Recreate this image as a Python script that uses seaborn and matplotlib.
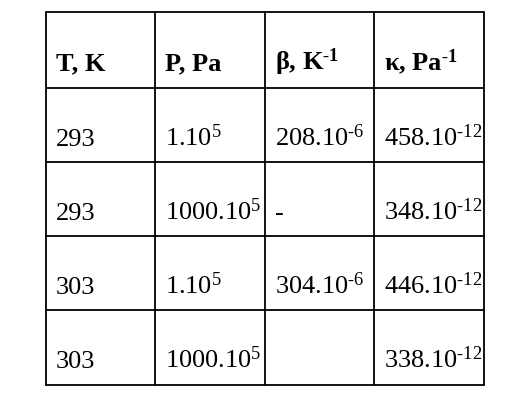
import matplotlib
matplotlib.use("Agg")
import matplotlib.pyplot as plt
import seaborn as sns

headers = ["T, K", "P, Pa", "β, K$^{\\mathbf{\\text{-}1}}$", "κ, Pa$^{\\mathbf{\\text{-}1}}$"]
temps = ["293", "293", "303", "303"]
pressures = ["1.10$^{5}$", "1000.10$^{5}$", "1.10$^{5}$", "1000.10$^{5}$"]
betas = ["208.10$^{\\text{-}6}$", "-", "304.10$^{\\text{-}6}$", ""]
kappas = ["458.10$^{\\text{-}12}$", "348.10$^{\\text{-}12}$", "446.10$^{\\text{-}12}$", "338.10$^{\\text{-}12}$"]

sns.set_style("white")
plt.rcParams['font.family'] = ['Liberation Serif', 'DejaVu Serif']
plt.rcParams['mathtext.fontset'] = 'custom'
plt.rcParams['mathtext.rm'] = 'Liberation Serif'
plt.rcParams['mathtext.it'] = 'Liberation Serif'
plt.rcParams['mathtext.bf'] = 'Liberation Serif:bold'

fig = plt.figure(figsize=(5.28, 4.01), dpi=100)
ax = fig.add_axes([0, 0, 1, 1])
ax.set_xlim(0, 528)
ax.set_ylim(401, 0)
ax.axis("off")

col_x = [46, 155, 265, 374, 484]
row_y = [12, 88, 162, 236, 310, 385]
for x in col_x:
    ax.plot([x, x], [row_y[0], row_y[-1]], color="black", lw=1.3)
for y in row_y:
    ax.plot([col_x[0], col_x[-1]], [y, y], color="black", lw=1.3)

rows = [headers] + [list(r) for r in zip(temps, pressures, betas, kappas)]
for i, row in enumerate(rows):
    for j, txt in enumerate(row):
        ax.text(col_x[j] + 10, row_y[i] + 58, txt, fontsize=19, color="black",
                fontweight="bold" if i == 0 else "normal",
                va="baseline", ha="left")

fig.savefig("out.png", dpi=100)
